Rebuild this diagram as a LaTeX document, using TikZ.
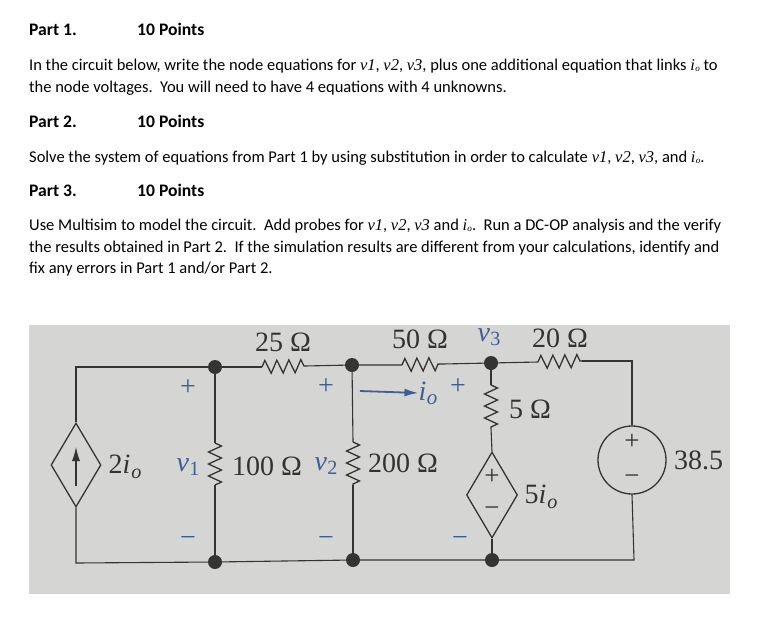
\documentclass[tikz,border=0pt]{standalone}
\usepackage{fontspec}
\setmainfont{Carlito}
\newfontfamily\ser{Liberation Serif}
\usetikzlibrary{shapes.geometric,decorations.pathmorphing,arrows.meta}
\definecolor{bgray}{HTML}{D5D5D3}
\definecolor{wirec}{HTML}{343434}
\definecolor{bluec}{HTML}{3F5E96}
\newcommand{\vi}[1]{{\ser\itshape v#1}}
\newcommand{\io}{{\ser\itshape i\kern0.2pt\raisebox{-0.2ex}{\scalebox{0.55}{o}}}}
\newcommand{\ii}{{\ser\itshape i\kern0.5pt\raisebox{-0.3ex}{\scalebox{0.75}{o}}}}
\newcommand{\vs}[1]{{\ser\itshape v\kern0.3pt\raisebox{-0.35ex}{\scalebox{0.72}{\upshape #1}}}}
\tikzset{
  txt/.style={anchor=base west,inner sep=0pt,font=\fontsize{16.5pt}{18pt}\selectfont,text=black},
  hd/.style={txt,font=\fontsize{17.6pt}{18pt}\selectfont\bfseries},
  wire/.style={draw=wirec,line width=1.1pt},
  res/.style={draw=wirec,line width=1.3pt,decorate,decoration={zigzag,segment length=12pt,amplitude=6.5pt}},
  dot/.style={circle,fill=wirec,minimum size=14pt,inner sep=0pt},
  dsrc/.style={diamond,draw=wirec,line width=1.3pt,fill=none,inner sep=0pt,aspect=0.6},
  lab/.style={inner sep=0pt,text=black!80,font=\ser\fontsize{28pt}{30pt}\selectfont},
  pol/.style={inner sep=0pt,text=bluec,font=\ser\fontsize{28pt}{30pt}\selectfont},
  polk/.style={inner sep=0pt,text=wirec,font=\ser\fontsize{27pt}{30pt}\selectfont}
}
\begin{document}
\begin{tikzpicture}[x=1pt,y=-1pt]
\useasboundingbox (0,0) rectangle (768,629);
\fill[white] (0,0) rectangle (768,629);
\fill[bgray] (29,325) rectangle (730,594);
% text
\node[hd] at (29,35) {Part 1.};
\node[hd] at (137,35) {10 Points};
\node[txt] at (29,70) {In the circuit below, write the node equations for \vi{1}, \vi{2}, \vi{3}, plus one additional equation that links \io{} to};
\node[txt] at (29,92) {the node voltages.\ \ You will need to have 4 equations with 4 unknowns.};
\node[hd] at (29,127) {Part 2.};
\node[hd] at (137,127) {10 Points};
\node[txt] at (29,162) {Solve the system of equations from Part 1 by using substitution in order to calculate \vi{1}, \vi{2}, \vi{3}, and \io.};
\node[hd] at (29,196) {Part 3.};
\node[hd] at (137,196) {10 Points};
\node[txt] at (29,230) {Use Multisim to model the circuit.\ \ Add probes for \vi{1}, \vi{2}, \vi{3} and \io.\ \ Run a DC-OP analysis and the verify};
\node[txt] at (29,252) {the results obtained in Part 2.\ \ If the simulation results are different from your calculations, identify and};
\node[txt] at (29,273) {fix any errors in Part 1 and/or Part 2.};
% circuit nodes
\node[dot] (n1) at (215,367) {};
\node[dot] (n2) at (352,365) {};
\node[dot] (n3) at (491,363) {};
\node[dot] (b1) at (215,562) {};
\node[dot] (b2) at (353,560) {};
\node[dot] (b3) at (492,560) {};
\coordinate (tl) at (76,367);
\coordinate (bl) at (76,563);
\coordinate (tr) at (632,361);
\coordinate (br) at (634,560);
\node[dsrc,minimum width=50pt,minimum height=84pt] (cs) at (76,465) {};
\node[dsrc,minimum width=51pt,minimum height=86pt] (vs) at (492,495) {};
\node[circle,draw=wirec,line width=1.3pt,minimum size=68pt,inner sep=0pt] (bat) at (632,460) {};
\coordinate (ra1) at (262,367); \coordinate (ra2) at (305,366);
\coordinate (rb1) at (402,365); \coordinate (rb2) at (443,364);
\coordinate (rc1) at (538,362); \coordinate (rc2) at (582,361);
\coordinate (rd1) at (215,443); \coordinate (rd2) at (215,485);
\coordinate (re1) at (353,442); \coordinate (re2) at (353,485);
\coordinate (rf1) at (491,385); \coordinate (rf2) at (491,428);
% wires
\draw[wire] (cs.north) -- (tl) -- (n1) -- (ra1);
\draw[wire] (ra2) -- (n2) -- (rb1);
\draw[wire] (rb2) -- (n3) -- (rc1);
\draw[wire] (rc2) -- (tr) -- (bat.north);
\draw[wire] (bat.south) -- (br) -- (b3) -- (b2) -- (b1) -- (bl) -- (cs.south);
\draw[wire] (n1) -- (rd1); \draw[wire] (rd2) -- (b1);
\draw[wire] (n2) -- (re1); \draw[wire] (re2) -- (b2);
\draw[wire] (n3) -- (rf1); \draw[wire] (rf2) -- (vs.north);
\draw[wire] (vs.south) -- (b3);
\draw[res] (ra1) -- (ra2);
\draw[res] (rb1) -- (rb2);
\draw[res] (rc1) -- (rc2);
\draw[res] (rd1) -- (rd2);
\draw[res] (re1) -- (re2);
\draw[res] (rf1) -- (rf2);
% source arrow
\coordinate (ca1) at (76,486); \coordinate (ca2) at (76,447);
\draw[wire,-{Latex[length=14pt,width=8pt]}] (ca1) -- (ca2);
% labels
\node[lab] (l25) at (283,342) {25 Ω};
\node[lab] (l50) at (420,339) {50 Ω};
\node[lab] (l20) at (560,338) {20 Ω};
\node[lab] (l5) at (530,409) {5 Ω};
\node[lab,anchor=west] (l100) at (232,466) {100 Ω};
\node[lab,anchor=west] (l200) at (368,463) {200 Ω};
\node[lab] (l2io) at (125,467) {{\ser 2\itshape i\kern1pt\raisebox{-0.35ex}{\scalebox{0.72}{o}}}};
\node[lab] (l5io) at (541,497) {{\ser 5\itshape i\kern1pt\raisebox{-0.35ex}{\scalebox{0.72}{o}}}};
\node[lab,anchor=west] (l385) at (674,460) {38.5};
% blue polarity and variables
\node[pol] (p1) at (188,388) {+};
\node[pol] (p2) at (326,387) {+};
\node[pol] (p3) at (458,387) {+};
\node[pol] (m1) at (188,541) {\textminus};
\node[pol] (m2) at (326,541) {\textminus};
\node[pol] (m3) at (460,541) {\textminus};
\node[pol] (v1) at (188,467) {\vs{1}};
\node[pol] (v2) at (326,466) {\vs{2}};
\node[pol] (v3) at (489,337) {\vs{3}};
\node[pol] (lio) at (428,393) {\ii};
\coordinate (ia1) at (360,391);
\draw[draw=bluec,line width=1.8pt,-{Latex[length=14pt,width=8pt]}] (ia1) -- (lio.west);
% source signs
\node[polk] (sp) at (492,477) {+};
\node[polk] (sm) at (492,512) {\textminus};
\node[polk] (bp) at (632,442) {+};
\node[polk] (bm) at (632,480) {\textminus};
\end{tikzpicture}
\end{document}
